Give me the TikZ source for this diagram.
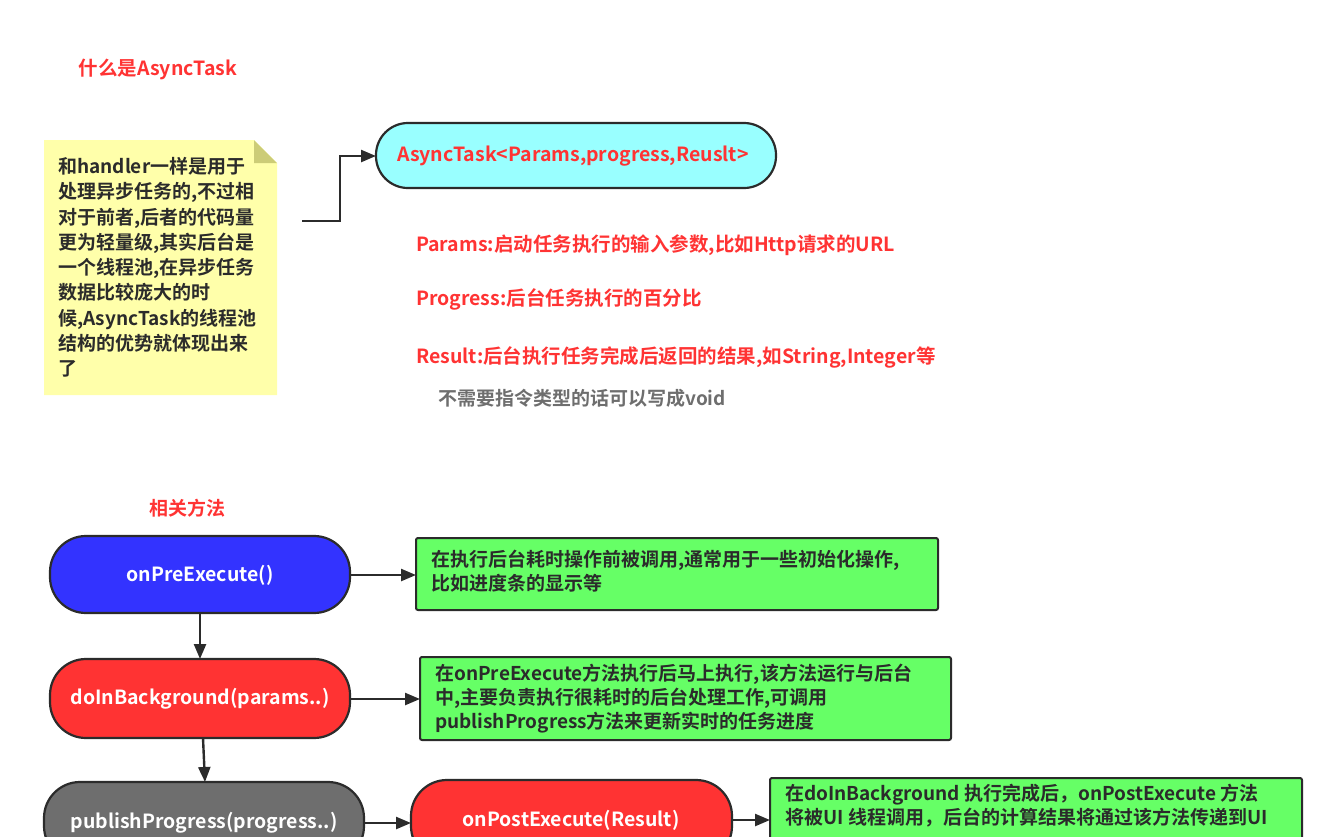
\documentclass[tikz,border=0pt]{standalone}
\usepackage{fontspec}
\setmainfont{Noto Sans CJK SC}[BoldFont=* Bold]
\usetikzlibrary{arrows.meta}
\definecolor{tred}{HTML}{FF3333}
\definecolor{edge}{HTML}{2B2B2B}
\begin{document}
\begin{tikzpicture}[x=1pt,y=-1pt,
  pill/.style={draw=edge,line width=2.2pt,rounded corners=36pt},
  gbox/.style={draw=edge,line width=2pt,rounded corners=2pt,fill={rgb,255:red,102;green,255;blue,102}},
  lab/.style={font=\bfseries\fontsize{19.5}{19.5}\selectfont},
  arr/.style={draw=edge,line width=2.4pt,-{Triangle[length=15pt,width=12pt]}},
  rtext/.style={anchor=west,inner sep=0pt,text=tred,font=\bfseries\fontsize{19.5}{19.5}\selectfont}]
\useasboundingbox (0,0) rectangle (1339,836);
\clip (0,0) rectangle (1339,836);
\node[text=tred,font=\bfseries\fontsize{19.5}{19.5}\selectfont] (t1) at (158,69) {什么是AsyncTask};
% note
\fill[fill={rgb,255:red,255;green,255;blue,170}] (44,140) -- (254,140) -- (277,163) -- (277,395) -- (44,395) -- cycle;
\fill[fill={rgb,255:red,204;green,204;blue,119}] (254,140) -- (277,163) -- (254,163) -- cycle;
\node[anchor=north west,inner sep=0pt,align=left,text=edge,font=\bfseries\fontsize{19}{25.3}\selectfont] (note) at (58,157) {和handler一样是用于\\处理异步任务的,不过相\\对于前者,后者的代码量\\更为轻量级,其实后台是\\一个线程池,在异步任务\\数据比较庞大的时\\候,AsyncTask的线程池\\结构的优势就体现出来\\了};
\coordinate (ns) at (302,221);
\path[pill,fill={rgb,255:red,153;green,255;blue,255},rounded corners=32pt] (376,123) rectangle (776,188);
\node[rtext] (at) at (397,156) {AsyncTask<Params,progress,Reuslt>};
\draw[arr] (ns) -- (340,221) -- (340,156) -- (376,156);
\node[rtext] (p1) at (416,245) {Params:启动任务执行的输入参数,比如Http请求的URL};
\node[rtext] (p2) at (416,299) {Progress:后台任务执行的百分比};
\node[rtext] (p3) at (416,357) {Result:后台执行任务完成后返回的结果,如String,Integer等};
\node[anchor=west,inner sep=0pt,text={rgb,255:red,110;green,110;blue,110},font=\bfseries\fontsize{19}{19}\selectfont] (p4) at (438,398) {不需要指令类型的话可以写成void};
\node[text=tred,font=\bfseries\fontsize{19}{19}\selectfont] (t2) at (187,508) {相关方法};
% methods
\path[pill,fill={rgb,255:red,51;green,51;blue,255}] (50,536) rectangle (350,613);
\node[lab,text=white] (m1) at (200,575) {onPreExecute()};
\path[pill,fill=tred] (50,659) rectangle (350,738);
\node[lab,text=white] (m2) at (200,699) {doInBackground(params..)};
\path[pill,fill={rgb,255:red,110;green,110;blue,110}] (44,782) rectangle (364,862);
\node[lab,text=white] (m3) at (204,823) {publishProgress(progress..)};
\path[pill,fill=tred] (411,780) rectangle (732,862);
\node[lab,text=white] (m4) at (571,820) {onPostExecute(Result)};
% green boxes
\path[gbox] (416,538) rectangle (938,610);
\node[anchor=north west,inner sep=0pt,align=left,text=edge,font=\bfseries\fontsize{19}{24}\selectfont] (g1) at (431,550) {在执行后台耗时操作前被调用,通常用于一些初始化操作,\\比如进度条的显示等};
\path[gbox] (420,657) rectangle (951,740);
\node[anchor=north west,inner sep=0pt,align=left,text=edge,font=\bfseries\fontsize{19}{24}\selectfont] (g2) at (435,664) {在onPreExecute方法执行后马上执行,该方法运行与后台\\中,主要负责执行很耗时的后台处理工作,可调用\\publishProgress方法来更新实时的任务进度};
\path[gbox] (770,778) rectangle (1302,870);
\node[anchor=north west,inner sep=0pt,align=left,text=edge,font=\bfseries\fontsize{19}{24}\selectfont] (g3) at (785,784) {在doInBackground 执行完成后，onPostExecute 方法\\将被UI 线程调用，后台的计算结果将通过该方法传递到UI};
% arrows
\draw[arr] (350,575) -- (416,575);
\draw[arr] (350,699) -- (420,699);
\draw[arr] (364,823) -- (411,823);
\draw[arr] (732,820) -- (770,820);
\draw[arr] (200,613) -- (200,659);
\draw[arr] (203,738) -- (205,782);
\end{tikzpicture}
\end{document}
